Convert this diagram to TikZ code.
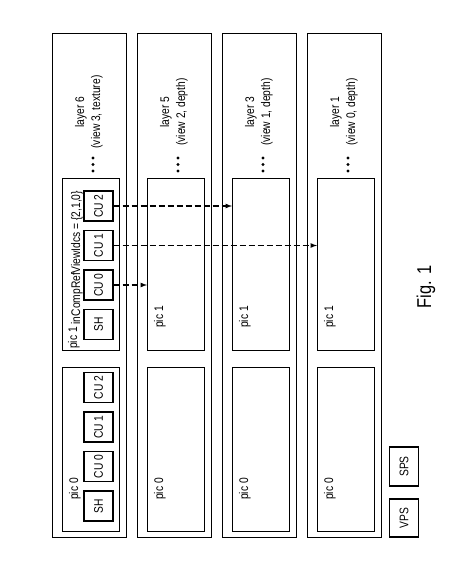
\documentclass[tikz,border=0pt]{standalone}
\usepackage{fontspec}
\setmainfont[FakeStretch=0.82]{Liberation Sans}
\usetikzlibrary{arrows}

\tikzset{
    layerbox/.style={draw, line width=1.3pt, inner sep=0pt, minimum width=74pt, minimum height=504pt, anchor=north west},
    picbox/.style={draw, line width=1.2pt, inner sep=0pt, minimum width=57pt, anchor=north west},
    unit/.style={draw, line width=1.2pt, inner sep=0pt, minimum width=29pt, minimum height=30pt, font=\fontsize{12.5}{15}\selectfont},
    lbl/.style={rotate=90, inner sep=0pt, font=\fontsize{12.5}{16}\selectfont},
    conn/.style={line width=1.2pt, dash pattern=on 6pt off 3pt, -latex}
}

\begin{document}
\begin{tikzpicture}[x=1pt, y=-1pt]
    \useasboundingbox (0,0) rectangle (474,572);

    \foreach \n/\lx/\v/\t in {6/52/3/texture, 5/137/2/depth, 3/222/1/depth, 1/307/0/depth}{
        \node[layerbox] (layer\n) at (\lx,33) {};
        \node[picbox, minimum height=164pt] (pic0l\n) at (\lx+10,367) {};
        \node[picbox, minimum height=172pt] (pic1l\n) at (\lx+10,178) {};
        \node[lbl, align=center] (title\n) at (\lx+37,112) {layer \n\\(view \v, \t)};
        \node[lbl] (pic0lbl\n) at (\lx+23,489) {pic 0};
        \foreach \d in {158,164.5,171}{
            \fill (\lx+41,\d) circle [radius=1.7];
        }
    }

    \foreach \n/\lx in {5/137,3/222,1/307}{
        \node[lbl] (pic1lbl\n) at (\lx+23,317) {pic 1};
    }

    \node[lbl, anchor=base west] (pic1lbl6) at (77,349)
        {pic 1 \raisebox{-3pt}{inCompRefViewIdcs = \{2,1,0\}}};

    % slice header and coding units of layer 6
    \foreach \p/\y in {0/506,1/324.5}{
        \node[unit] (sh\p) at (98.5,\y) {\rotatebox{90}{SH}};
        \foreach \c in {0,1,2}{
            \node[unit] (cu\p\c) at (98.5,\y-39.5*\c-39.5) {\rotatebox{90}{CU \c}};
        }
    }

    \draw[conn] (cu12.east) -- (cu12.east -| pic1l3.west);
    \draw[conn] (cu11.east) -- (cu11.east -| pic1l1.west);
    \draw[conn] (cu10.east) -- (cu10.east -| pic1l5.west);

    \node[unit, minimum height=38pt] (vps) at (404,518) {\rotatebox{90}{VPS}};
    \node[unit, minimum height=39pt] (sps) at (404,466.5) {\rotatebox{90}{SPS}};

    \node[rotate=90, font=\fontsize{20}{24}\selectfont] (fig) at (426,287) {Fig. 1};

\end{tikzpicture}
\end{document}
